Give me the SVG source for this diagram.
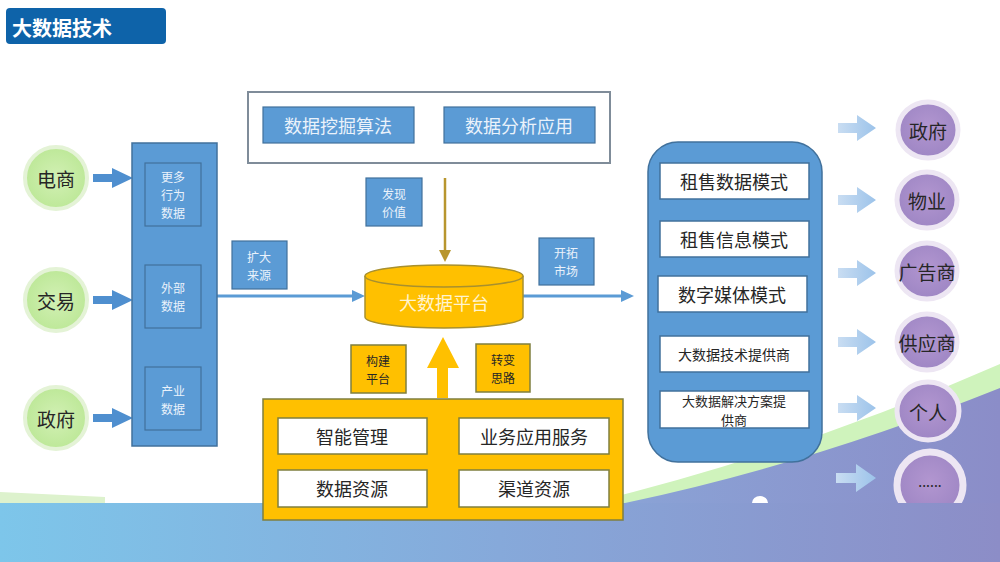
<svg xmlns="http://www.w3.org/2000/svg" width="1000" height="562" viewBox="0 0 1000 562">
<defs>
<style>
text{font-family:"Noto Sans CJK SC","Liberation Sans",sans-serif;text-anchor:middle;dominant-baseline:central}
.blue{fill:#5B9BD5;stroke:#41719C;stroke-width:1.5}
.inner{fill:#5B9BD5;stroke:#41719C;stroke-width:1.2}
.wt{fill:#EAF2FB;font-size:12px}
.wbox{fill:#FFFFFF;stroke:#41719C;stroke-width:1.5}
.ybox{fill:#FFC000;stroke:#7F7F3F;stroke-width:1.5}
.ywbox{fill:#FFFFFF;stroke:#7F7F3F;stroke-width:1.5}
.dt{fill:#262626}
.gc{fill:url(#gGreen);stroke:#E4F3D6;stroke-width:4}
.pc{fill:url(#gPurple);stroke:#EDE6F3;stroke-width:5}
.ra{fill:url(#gArrow)}
</style>
<linearGradient id="gBottom" x1="0" y1="0" x2="1" y2="0">
<stop offset="0" stop-color="#7DC6EA"/>
<stop offset="0.5" stop-color="#86A9DA"/>
<stop offset="1" stop-color="#8C8DC7"/>
</linearGradient>
<linearGradient id="gPurpleBg" x1="0" y1="0" x2="1" y2="0">
<stop offset="0" stop-color="#8AA3D6"/>
<stop offset="1" stop-color="#8B8DC8"/>
</linearGradient>
<radialGradient id="gGreen" cx="0.5" cy="0.5" r="0.5">
<stop offset="0" stop-color="#D2F0B4"/>
<stop offset="1" stop-color="#BDE898"/>
</radialGradient>
<radialGradient id="gPurple" cx="0.5" cy="0.45" r="0.55">
<stop offset="0" stop-color="#B296D0"/>
<stop offset="1" stop-color="#9E86C4"/>
</radialGradient>
<linearGradient id="gArrow" x1="0" y1="0" x2="1" y2="0">
<stop offset="0" stop-color="#C9DDF2"/>
<stop offset="1" stop-color="#9CC3EA"/>
</linearGradient>
<clipPath id="cutTop"><rect x="0" y="0" width="1000" height="503"/></clipPath>
</defs>

<!-- background -->
<rect x="0" y="0" width="1000" height="562" fill="#FFFFFF"/>
<path d="M590 503 Q800 452 1000 364 L1000 503 Z" fill="#CFF3BC"/>
<path d="M625 503 Q810 464 1000 388 L1000 503 Z" fill="url(#gPurpleBg)"/>
<path d="M0 492 L105 497 L105 509 L0 506 Z" fill="#DDF2CD"/>
<rect x="0" y="503" width="1000" height="59" fill="url(#gBottom)"/>
<path d="M752 503 A8 7 0 0 1 768 503 Z" fill="#FFFFFF"/>

<!-- title -->
<g id="title">
<rect x="6" y="8" width="160" height="36" rx="4" fill="#0E63A9"/>
<text x="62" y="27" style="fill:#FFFFFF;font-size:20px;font-weight:bold">大数据技术</text>
</g>

<!-- connectors -->
<g id="connectors">
<path d="M93 174 H112 V168 L133 178 L112 188 V182 H93 Z" fill="#4F8FCF"/>
<path d="M93 296 H112 V290 L133 300 L112 310 V304 H93 Z" fill="#4F8FCF"/>
<path d="M93 414 H112 V408 L133 418 L112 428 V422 H93 Z" fill="#4F8FCF"/>
<line x1="217" y1="296" x2="353" y2="296" stroke="#5B9BD5" stroke-width="3"/>
<polygon points="352,290 365,296 352,302" fill="#5B9BD5"/>
<line x1="523" y1="296" x2="622" y2="296" stroke="#5B9BD5" stroke-width="3"/>
<polygon points="621,290 634,296 621,302" fill="#5B9BD5"/>
<line x1="445" y1="178" x2="445" y2="252" stroke="#B8962E" stroke-width="2.5"/>
<polygon points="439,250 445,262 451,250" fill="#B8962E"/>
<path d="M437 398 V368 H427 L443 337 L459 368 H448 V398 Z" fill="#FFC000"/>
<path d="M838 123 H857 V115 L876 128 L857 141 V133 H838 Z" class="ra"/>
<path d="M838 195 H857 V187 L876 200 L857 213 V205 H838 Z" class="ra"/>
<path d="M838 268 H857 V260 L876 273 L857 286 V278 H838 Z" class="ra"/>
<path d="M838 337 H857 V329 L876 342 L857 355 V347 H838 Z" class="ra"/>
<path d="M838 403 H857 V395 L876 408 L857 421 V413 H838 Z" class="ra"/>
<path d="M836 473 H856 V464 L876 478 L856 492 V483 H836 Z" class="ra"/>
</g>

<!-- left sources -->
<g id="src-dianshang"><circle cx="56" cy="178" r="31" class="gc"/><text x="56" y="178" class="dt" style="font-size:19px">电商</text></g>
<g id="src-jiaoyi"><circle cx="56" cy="300" r="31" class="gc"/><text x="56" y="300" class="dt" style="font-size:19px">交易</text></g>
<g id="src-zhengfu"><circle cx="56" cy="418" r="31" class="gc"/><text x="56" y="418" class="dt" style="font-size:19px">政府</text></g>

<!-- left data column -->
<g id="data-column">
<rect x="132" y="143" width="85" height="303" class="blue"/>
<rect x="145" y="163" width="56" height="63" class="inner"/>
<text x="173" y="176" class="wt">更多</text>
<text x="173" y="194" class="wt">行为</text>
<text x="173" y="212" class="wt">数据</text>
<rect x="145" y="265" width="56" height="63" class="inner"/>
<text x="173" y="287" class="wt">外部</text>
<text x="173" y="305" class="wt">数据</text>
<rect x="145" y="367" width="56" height="63" class="inner"/>
<text x="173" y="390" class="wt">产业</text>
<text x="173" y="408" class="wt">数据</text>
</g>

<g id="label-kuoda">
<rect x="232" y="241" width="55" height="48" class="inner"/>
<text x="259" y="256" class="wt">扩大</text>
<text x="259" y="274" class="wt">来源</text>
</g>

<!-- top analysis box -->
<g id="analysis">
<rect x="248" y="92" width="362" height="71" fill="#FFFFFF" stroke="#7F8C99" stroke-width="2"/>
<rect x="263" y="107" width="151" height="36" class="inner"/>
<text x="338" y="125" style="fill:#EAF2FB;font-size:18px">数据挖掘算法</text>
<rect x="444" y="107" width="151" height="36" class="inner"/>
<text x="519" y="125" style="fill:#EAF2FB;font-size:18px">数据分析应用</text>
</g>

<g id="label-faxian">
<rect x="366" y="178" width="56" height="48" class="inner"/>
<text x="394" y="193" class="wt">发现</text>
<text x="394" y="211" class="wt">价值</text>
</g>

<!-- platform cylinder -->
<g id="platform">
<path d="M365 276 V317 A79 11 0 0 0 523 317 V276" fill="#FFC000" stroke="#A8902E" stroke-width="1.5"/>
<ellipse cx="444" cy="276" rx="79" ry="11" fill="#FFC000" stroke="#A8902E" stroke-width="1.5"/>
<text x="444" y="302" style="fill:#FFF4D0;font-size:18px">大数据平台</text>
</g>

<g id="label-kaituo">
<rect x="539" y="238" width="55" height="47" class="inner"/>
<text x="566" y="252" class="wt">开拓</text>
<text x="566" y="270" class="wt">市场</text>
</g>

<g id="label-goujian">
<rect x="351" y="345" width="55" height="48" class="ybox"/>
<text x="378" y="360" class="dt" style="font-size:12px">构建</text>
<text x="378" y="378" class="dt" style="font-size:12px">平台</text>
</g>
<g id="label-zhuanbian">
<rect x="476" y="344" width="54" height="48" class="ybox"/>
<text x="503" y="359" class="dt" style="font-size:12px">转变</text>
<text x="503" y="377" class="dt" style="font-size:12px">思路</text>
</g>

<!-- foundation box -->
<g id="foundation">
<rect x="263" y="399" width="360" height="121" class="ybox"/>
<rect x="278" y="418" width="149" height="36" class="ywbox"/>
<text x="352" y="436" class="dt" style="font-size:18px">智能管理</text>
<rect x="459" y="418" width="150" height="36" class="ywbox"/>
<text x="534" y="436" class="dt" style="font-size:18px">业务应用服务</text>
<rect x="278" y="470" width="149" height="37" class="ywbox"/>
<text x="352" y="488" class="dt" style="font-size:18px">数据资源</text>
<rect x="459" y="470" width="150" height="37" class="ywbox"/>
<text x="534" y="488" class="dt" style="font-size:18px">渠道资源</text>
</g>

<!-- business models -->
<g id="models">
<rect x="648" y="142" width="174" height="320" rx="30" class="blue"/>
<rect x="660" y="163" width="149" height="36" class="wbox"/>
<text x="734" y="181" class="dt" style="font-size:18px">租售数据模式</text>
<rect x="660" y="221" width="149" height="36" class="wbox"/>
<text x="734" y="239" class="dt" style="font-size:18px">租售信息模式</text>
<rect x="658" y="276" width="149" height="36" class="wbox"/>
<text x="732" y="294" class="dt" style="font-size:18px">数字媒体模式</text>
<rect x="660" y="336" width="149" height="36" class="wbox"/>
<text x="734" y="354" class="dt" style="font-size:14px">大数据技术提供商</text>
<rect x="660" y="391" width="149" height="37" class="wbox"/>
<text x="734" y="400" class="dt" style="font-size:13px">大数据解决方案提</text>
<text x="734" y="419" class="dt" style="font-size:13px">供商</text>
</g>

<!-- right targets -->
<g id="t-zhengfu"><ellipse cx="928" cy="130" rx="30" ry="28" class="pc"/><text x="928" y="130" class="dt" style="font-size:19px">政府</text></g>
<g id="t-wuye"><ellipse cx="927" cy="200" rx="30" ry="28" class="pc"/><text x="927" y="200" class="dt" style="font-size:19px">物业</text></g>
<g id="t-guanggao"><ellipse cx="927" cy="271" rx="30" ry="28" class="pc"/><text x="927" y="271" class="dt" style="font-size:19px">广告商</text></g>
<g id="t-gongying"><ellipse cx="927" cy="342" rx="30" ry="28" class="pc"/><text x="927" y="342" class="dt" style="font-size:19px">供应商</text></g>
<g id="t-geren"><ellipse cx="928" cy="411" rx="31" ry="29" class="pc"/><text x="928" y="411" class="dt" style="font-size:19px">个人</text></g>
<g id="t-more" clip-path="url(#cutTop)"><ellipse cx="930" cy="485" rx="33" ry="33" class="pc" style="stroke-width:7"/><text x="930" y="481" class="dt" style="font-size:14px">......</text></g>
</svg>
